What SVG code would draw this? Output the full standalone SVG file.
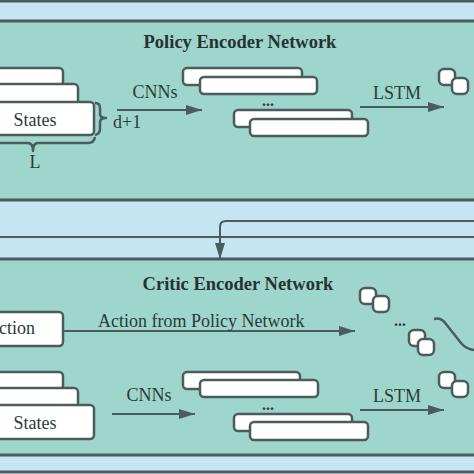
<svg xmlns="http://www.w3.org/2000/svg" width="474" height="474" viewBox="0 0 474 474">
<defs>
<style>
.band{fill:#c5e5f3;stroke:#4b5b5e;stroke-width:3}
.panel{fill:#9ed6cb;stroke:#4b5b5e;stroke-width:3}
.box{fill:#ffffff;stroke:#4b5b5e;stroke-width:2.5}
.sq{fill:#ffffff;stroke:#4b5b5e;stroke-width:2.5}
.ln{fill:none;stroke:#4b5b5e;stroke-width:2}
.br{fill:none;stroke:#4b5b5e;stroke-width:2.5;stroke-linejoin:round}
.t{font-family:"Liberation Serif","Times New Roman",serif;font-size:18px;fill:#2b3a3b}
.title{font-family:"Liberation Serif","Times New Roman",serif;font-size:18.5px;font-weight:bold;fill:#263234}
.dots{font-family:"Liberation Serif",serif;font-size:16px;font-weight:bold;fill:#2b3a3b}
</style>
<marker id="arr" markerUnits="userSpaceOnUse" markerWidth="16" markerHeight="10" refX="16" refY="5" orient="auto">
<path d="M0,0 L16,5 L0,10 Z" fill="#4b5b5e"/>
</marker>
</defs>
<rect x="-10" y="1" width="494" height="471" class="band"/>
<line x1="-10" y1="237" x2="484" y2="237" stroke="#4b5b5e" stroke-width="2"/>

<g id="policy-panel">
<rect x="-10" y="21" width="494" height="179" class="panel"/>
<text x="240" y="48" text-anchor="middle" class="title">Policy Encoder Network</text>
</g>
<g id="critic-panel">
<rect x="-10" y="259" width="494" height="196" class="panel"/>
<text x="238" y="290" text-anchor="middle" class="title">Critic Encoder Network</text>
</g>

<g id="policy-states">
<rect x="-10" y="68" width="73" height="34" rx="4" class="box"/>
<rect x="-10" y="84" width="88" height="34" rx="4" class="box"/>
<rect x="-10" y="102" width="104" height="33" rx="4" class="box"/>
<text x="35" y="126" text-anchor="middle" class="t">States</text>
<path class="br" d="M95,103 Q100,103 100,108 L100,114 Q100,118 106,118 Q100,118 100,122 L100,129 Q100,134 95,135"/>
<path class="br" d="M-5,143 L28,143 Q33,143 33,151 Q33,143 38,143 L88,143 Q94,143 95,137"/>
<text x="113" y="128" class="t">d+1</text>
<text x="35" y="168" text-anchor="middle" class="t">L</text>
</g>

<g id="policy-cnn">
<rect x="183" y="68" width="119" height="17" rx="4" class="box"/>
<rect x="200" y="77" width="117" height="17" rx="4" class="box"/>
<text x="268" y="106" text-anchor="middle" class="dots">...</text>
<rect x="234" y="110" width="118" height="17" rx="4" class="box"/>
<rect x="250" y="119" width="118" height="17" rx="4" class="box"/>
</g>

<g id="policy-output">
<rect x="439" y="69" width="16" height="16" rx="5" class="sq"/>
<rect x="452" y="78" width="16" height="16" rx="5" class="sq"/>
</g>

<g id="critic-action">
<rect x="-10" y="312" width="73" height="34" rx="4" class="box"/>
<text x="-1" y="334" class="t">ction</text>
</g>

<g id="critic-action-outputs">
<rect x="360" y="288" width="16" height="16" rx="5" class="sq"/>
<rect x="373" y="296" width="16" height="16" rx="5" class="sq"/>
<text x="400" y="326" text-anchor="middle" class="dots">...</text>
<rect x="409" y="330" width="16" height="16" rx="5" class="sq"/>
<rect x="418" y="339" width="16" height="16" rx="5" class="sq"/>
</g>

<g id="critic-states">
<rect x="-10" y="372" width="73" height="34" rx="4" class="box"/>
<rect x="-10" y="388" width="88" height="34" rx="4" class="box"/>
<rect x="-10" y="405" width="104" height="34" rx="4" class="box"/>
<text x="35" y="429" text-anchor="middle" class="t">States</text>
</g>

<g id="critic-cnn">
<rect x="183" y="372" width="117" height="17" rx="4" class="box"/>
<rect x="200" y="380" width="118" height="17" rx="4" class="box"/>
<text x="268" y="410" text-anchor="middle" class="dots">...</text>
<rect x="234" y="414" width="118" height="17" rx="4" class="box"/>
<rect x="250" y="422" width="118" height="18" rx="4" class="box"/>
</g>

<g id="critic-output">
<rect x="439" y="372" width="16" height="16" rx="5" class="sq"/>
<rect x="452" y="381" width="16" height="16" rx="5" class="sq"/>
</g>

<g id="connectors">
<line x1="117" y1="110" x2="202" y2="110" class="ln" marker-end="url(#arr)"/>
<text x="155" y="98" text-anchor="middle" class="t">CNNs</text>
<line x1="360" y1="107" x2="444" y2="107" class="ln" marker-end="url(#arr)"/>
<text x="397" y="99" text-anchor="middle" class="t">LSTM</text>
<path d="M480,221 L226,221 Q220,221 220,227 L220,259" class="ln" marker-end="url(#arr)"/>
<line x1="63" y1="331" x2="355" y2="331" class="ln" marker-end="url(#arr)"/>
<text x="98" y="327" class="t">Action from Policy Network</text>
<path d="M434,319 Q441,317 446,324 L461,343 Q467,350 476,350" fill="none" stroke="#4b5b5e" stroke-width="2.5"/>
<line x1="112" y1="414" x2="195" y2="414" class="ln" marker-end="url(#arr)"/>
<text x="149" y="401" text-anchor="middle" class="t">CNNs</text>
<line x1="360" y1="410" x2="444" y2="410" class="ln" marker-end="url(#arr)"/>
<text x="397" y="402" text-anchor="middle" class="t">LSTM</text>
</g>
</svg>
